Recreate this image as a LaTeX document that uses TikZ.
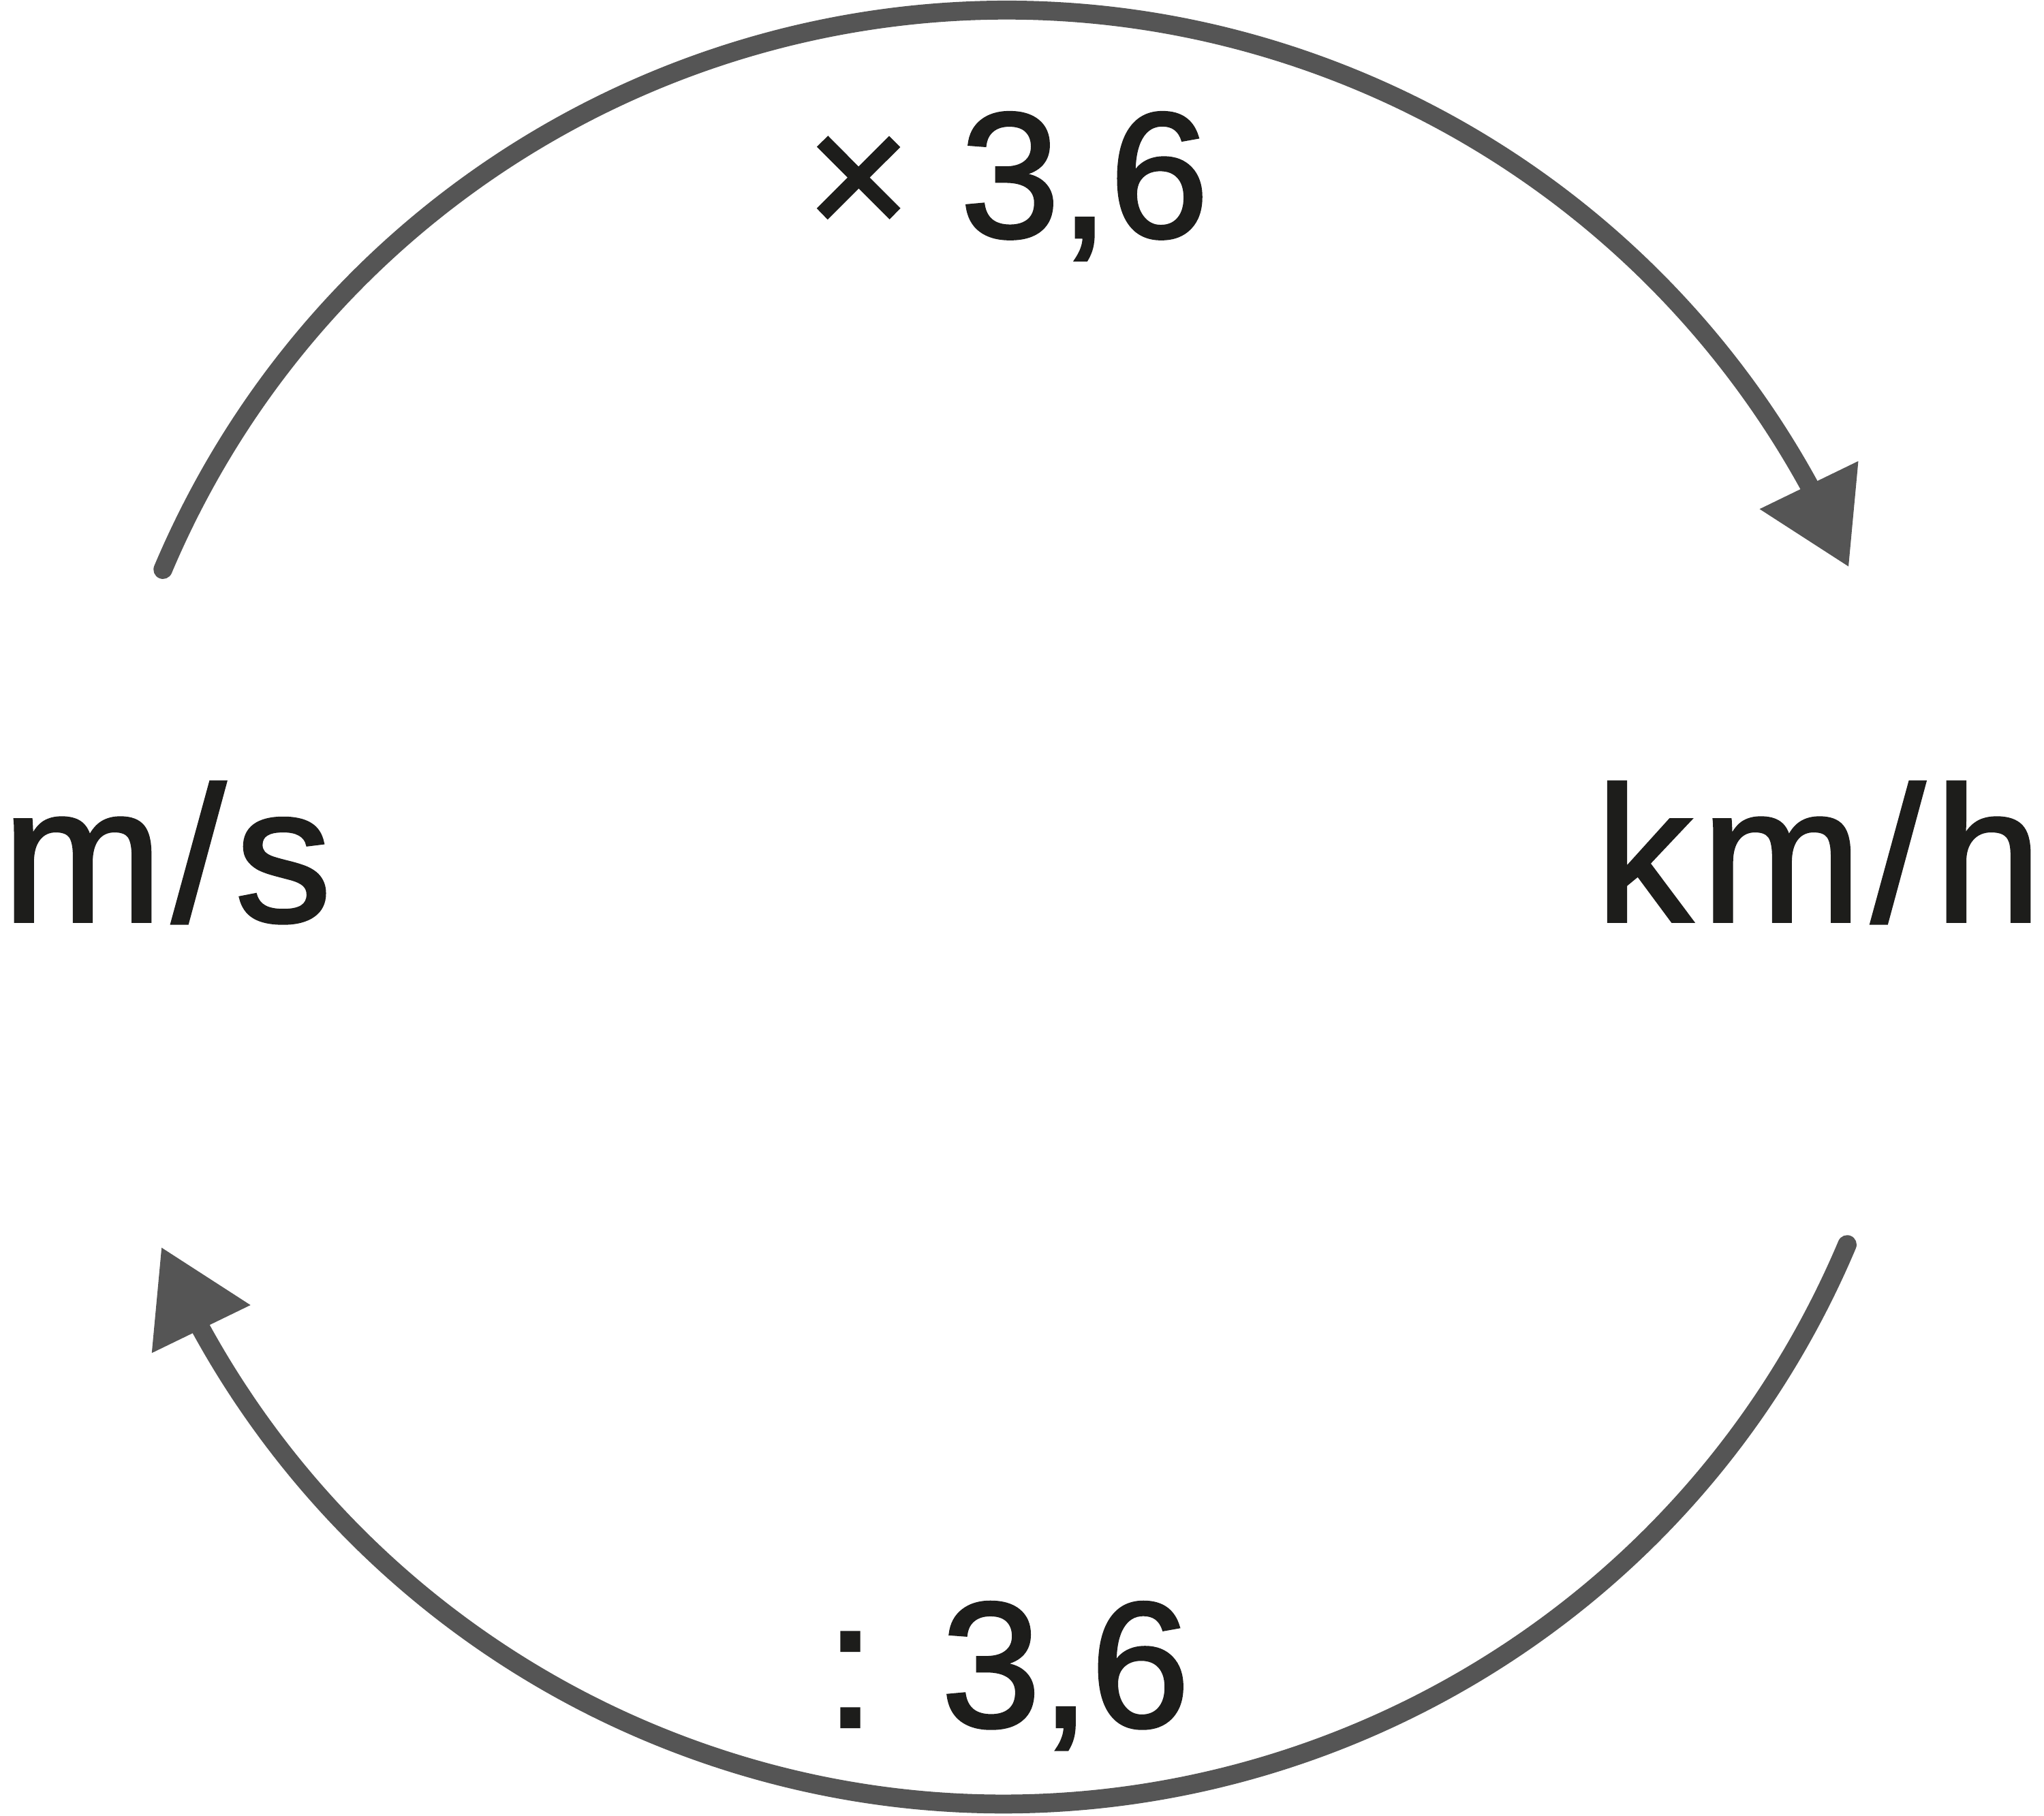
\documentclass[tikz,border=0pt]{standalone}
\usepackage{fontspec}
\setmainfont{Liberation Sans}
\newfontfamily\unitfont{Liberation Sans}[FakeBold=1.6,LetterSpace=5]
\newfontfamily\factorfont{Liberation Sans}[FakeBold=1.6]
\usetikzlibrary{arrows.meta,bending}
\definecolor{arcgray}{HTML}{555555}
\definecolor{inkblack}{HTML}{1D1D1B}
\begin{document}
\begin{tikzpicture}[x=0.01cm,y=0.01cm,
  conv/.style={draw=arcgray,line width=0.145cm,line cap=round,-{Triangle[length=0.7cm,width=0.8cm]}},
  unit/.style={text=inkblack,inner sep=0pt,font=\unitfont\fontsize{42}{48}\selectfont},
  factor/.style={text=inkblack,inner sep=0pt,font=\factorfont\fontsize{39}{46}\selectfont}]
\useasboundingbox (0,0) rectangle (1568,1393);
\node[unit,anchor=base west] (ms) at (1,686) {m/s};
\node[unit,anchor=base east] (kmh) at (1567,686) {km/h};
\node[factor,anchor=base] (times) at (773,1211) {× 3,6};
\node[factor,anchor=base] (divide) at (773,68) {: 3,6};
\coordinate (msOut) at (125,956);
\coordinate (kmhOut) at (1417,438);
\draw[conv] (msOut) arc[start angle=157.1,end angle=23.06,radius=7.02cm];
\draw[conv] (kmhOut) arc[start angle=-22.9,end angle=-156.94,radius=7.02cm];
\end{tikzpicture}
\end{document}
